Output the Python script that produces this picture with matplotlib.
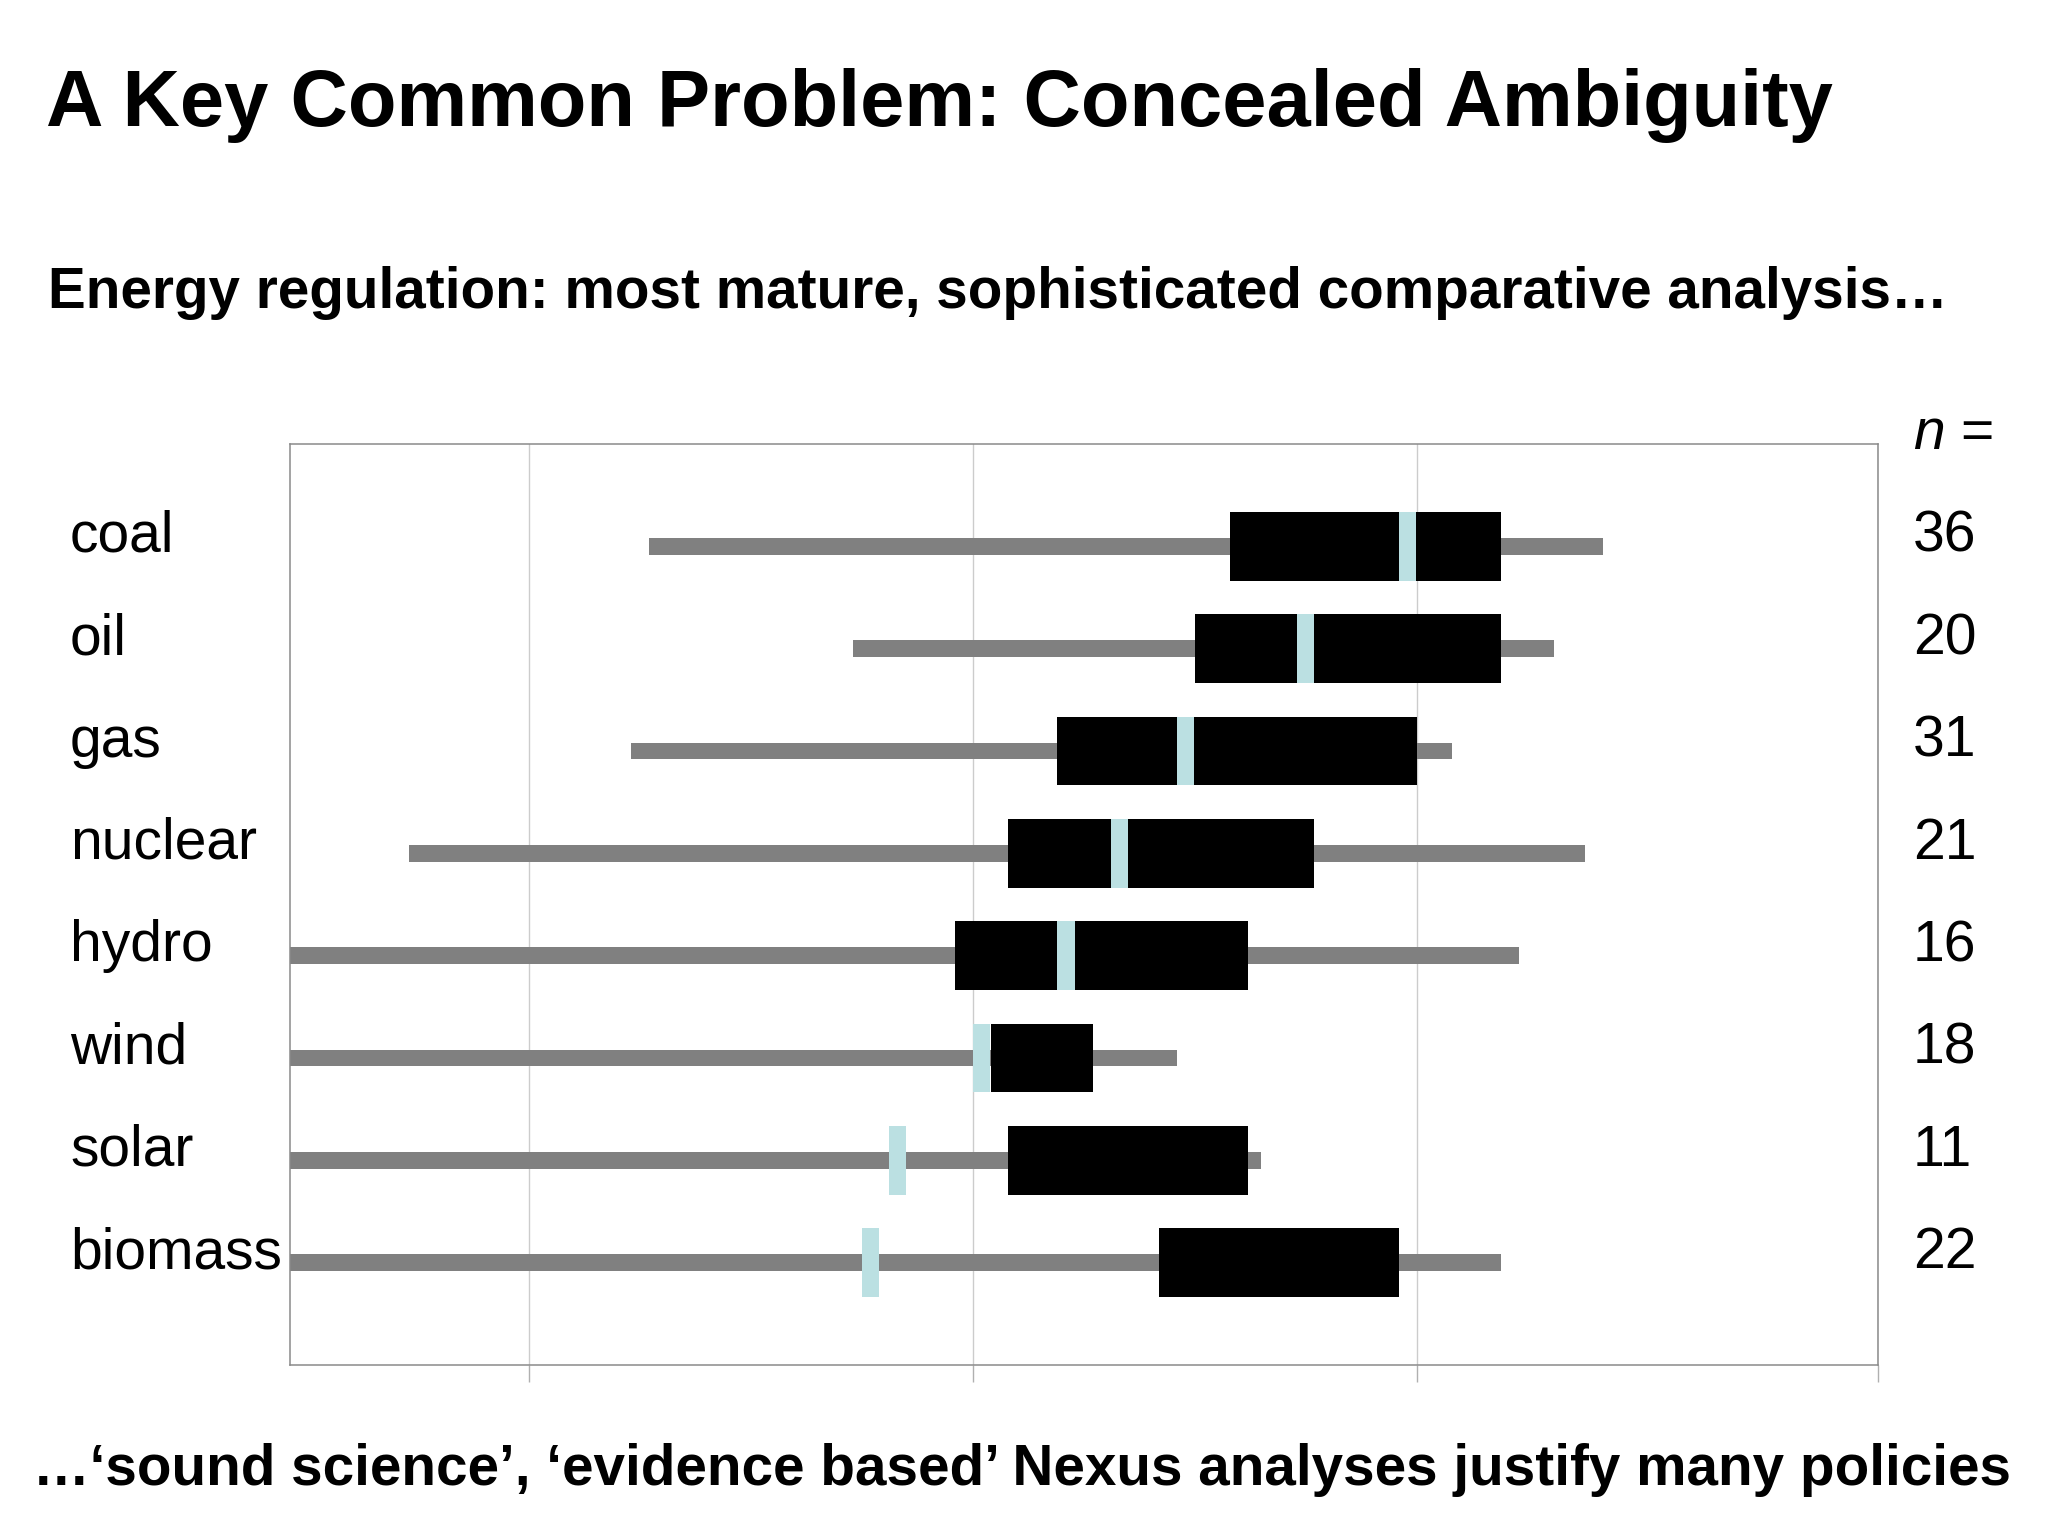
import matplotlib
matplotlib.use("Agg")
import matplotlib.pyplot as plt
import numpy as np

# energy options, top to bottom (x values in log10 units, gridlines at decades)
options = ["coal", "oil", "gas", "nuclear", "hydro", "wind", "solar", "biomass"]
n_studies = [36, 20, 31, 21, 16, 18, 11, 22]
range_low = [0.27, 0.73, 0.23, -0.27, -0.54, -0.54, -0.54, -0.54]
range_high = [2.42, 2.31, 2.08, 2.38, 2.23, 1.46, 1.65, 2.19]
box_low = [1.58, 1.50, 1.19, 1.08, 0.96, 1.04, 1.08, 1.42]
box_high = [2.19, 2.19, 2.00, 1.77, 1.62, 1.27, 1.62, 1.96]
medians = [1.98, 1.75, 1.48, 1.33, 1.21, 1.02, 0.83, 0.77]

W, H = 2048, 1536
XMIN, XMAX = -0.538, 3.039

plt.rcParams['font.family'] = ['Liberation Sans', 'DejaVu Sans']
plt.rcParams['mathtext.fontset'] = 'custom'
plt.rcParams['mathtext.it'] = 'Liberation Sans:italic'
plt.rcParams['mathtext.rm'] = 'Liberation Sans'

fig = plt.figure(figsize=(10.24, 7.68), dpi=200)
ax = fig.add_axes([290.3 / W, 1 - 1365 / H, (1877.6 - 290.3) / W, (1365 - 444) / H])

ypos = np.arange(len(options), 0, -1)
whisk_h = 0.163
box_h = 0.67
med_w = 0.039

ax.barh(ypos, np.array(range_high) - np.array(range_low), left=range_low,
        height=whisk_h, color="#808080", zorder=2)
ax.barh(ypos, np.array(box_high) - np.array(box_low), left=box_low,
        height=box_h, color="black", zorder=3)
ax.barh(ypos, med_w, left=np.array(medians) - med_w / 2,
        height=box_h, color="#BBE0E2", zorder=4)

ax.set_xlim(XMIN, XMAX)
ax.set_ylim(0, 9)
ax.set_yticks([])
ax.set_xticks([0, 1, 2, XMAX])
ax.set_xticklabels([])
ax.tick_params(axis="x", direction="out", length=6.1, width=0.5, color="#b0b0b0")
ax.grid(axis="x", color="#cccccc", linewidth=0.5, zorder=0)
ax.set_axisbelow(True)
for sp in ax.spines.values():
    sp.set_color("#8a8a8a")
    sp.set_linewidth(0.55)

# row labels and n counts
for name, y, n in zip(options, ypos, n_studies):
    ax.text((70 - 290.3) / 1587.3, y - 0.054, name, transform=ax.get_yaxis_transform(),
            ha="left", va="baseline", fontsize=20.5)
    ax.text((1913 - 290.3) / 1587.3, y - 0.054, str(n), transform=ax.get_yaxis_transform(),
            ha="left", va="baseline", fontsize=20.5)
ax.text((1913 - 290.3) / 1587.3, 9 - 5 / 102.4, r"$n$ =", transform=ax.get_yaxis_transform(),
        ha="left", va="baseline", fontsize=20.5)

renderer = fig.canvas.get_renderer()


def put_text(text, left, baseline, right, size):
    t = fig.text(left / W, 1 - baseline / H, text, ha="left", va="baseline",
                 fontsize=size, fontweight="bold")
    w = t.get_window_extent(renderer).width
    t.set_fontsize(size * (right - left) / w)
    return t


put_text("A Key Common Problem: Concealed Ambiguity", 46, 126, 1835, 28.8)
put_text("Energy regulation: most mature, sophisticated comparative analysis\u2026", 48, 308, 1946, 20.6)
put_text("\u2026\u2018sound science\u2019, \u2018evidence based\u2019 Nexus analyses justify many policies",
         33, 1485, 2011, 20.6)

fig.savefig("out.png", dpi=200)
